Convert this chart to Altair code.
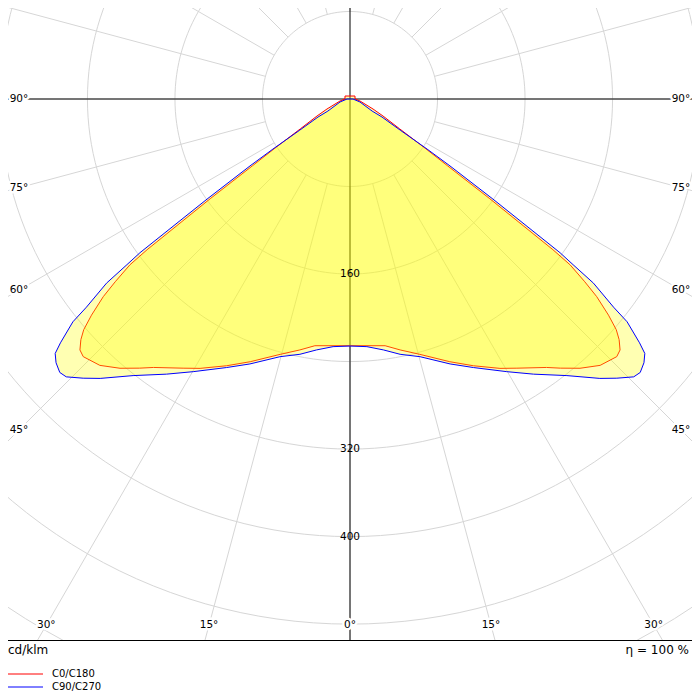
import numpy as np
import pandas as pd
import altair as alt

# ---------------- data (cd/klm) ----------------
# C0/C180 plane (red); the C180 half mirrors C0
gamma_c0 = [0, 8.1, 11.3, 15.3, 20.8, 24.8, 29.1, 31.8, 36.2, 38.0,
            40.5, 43.2, 46.0, 47.1, 48.2, 49.1, 50.1, 51.3, 52.1, 53.0,
            53.4, 54.5, 55.6, 56.7, 59.0, 62.7, 66.5, 78.7, 90, 121, 180]
int_c0 = [225.5, 227.8, 233.9, 242, 256.9, 268.6, 281.8, 289.5, 304.1, 312.2,
          323.7, 334, 339, 337, 330, 322, 308, 289, 272, 252,
          231, 157, 108, 83, 53, 34, 23, 9.3, 4.6, 5.3, 2.7]

# C90/C270 plane (blue); the C270 half mirrors C90
gamma_c90 = [0, 3.9, 7.6, 11.1, 15.2, 20.7, 24.7, 29.9, 33.7, 38.1,
             41.8, 43.7, 45.6, 46.7, 48.1, 49.2, 49.9, 51.2, 51.7, 52.9,
             53.4, 53.8, 55.0, 56.2, 57.0, 58.2, 60.6, 61.4, 73.3, 90, 180]
int_c90 = [225.8, 226.9, 231.4, 237.8, 244.1, 258.9, 270.2, 287.5, 302.3, 321.3,
           342.6, 353, 363, 364.5, 361, 356, 346, 325, 307, 279,
           254, 238, 159.5, 110, 84, 54, 33.5, 23, 9.5, 2.7, 0]

grid_radii = [80, 160, 240, 320, 400, 480, 560, 640]
spoke_angles = list(range(0, 360, 15))
value_labels = [160, 320, 400]
bottom_angle_labels = [0, 15, 30]
side_angle_labels = [45, 60, 75, 90]
series_names = ["C0/C180", "C90/C270"]
series_colors = ["#ff0000", "#0000ff"]
unit_text = "cd/klm"
eta_text = "η = 100 %"

# ---------------- geometry of the diagram ----------------
K = 1.094          # px per cd/klm
CX, CY = 350, 99   # pole position inside the plot frame
W, H = 699, 640    # frame size
xs = alt.Scale(domain=[-CX / K, (W - CX) / K], nice=False, zero=False)
ys = alt.Scale(domain=[-(H - CY) / K, CY / K], nice=False, zero=False)
X = lambda f: alt.X(f, type="quantitative", scale=xs, axis=None)
Y = lambda f: alt.Y(f, type="quantitative", scale=ys, axis=None)


def plane(gam, inten):
    g = np.radians(np.array(gam, dtype=float))
    i = np.array(inten, dtype=float)
    left = pd.DataFrame({"x": -(i * np.sin(g))[::-1], "y": -(i * np.cos(g))[::-1]})
    right = pd.DataFrame({"x": i * np.sin(g), "y": -i * np.cos(g)})
    df = pd.concat([left, right], ignore_index=True)
    df["o"] = np.arange(len(df))
    return df


c0 = plane(gamma_c0, int_c0)
c90 = plane(gamma_c90, int_c90)

t = np.radians(np.arange(0, 361, 2))
circ = pd.concat([pd.DataFrame({"r": r, "o": np.arange(len(t)),
                                "x": r * np.sin(t), "y": r * np.cos(t)})
                  for r in grid_radii], ignore_index=True)

a = np.radians(np.array(spoke_angles, dtype=float))
spokes = pd.DataFrame({"x": 80 * np.sin(a), "y": 80 * np.cos(a),
                       "x2": 800 * np.sin(a), "y2": 800 * np.cos(a)})

vl = pd.DataFrame({"x": 0.0, "y": [-v for v in value_labels],
                   "t": [str(v) for v in value_labels]})

# angle labels sit on the spokes, on a frame inset 19 px (sides) / 15 px (bottom)
inset_x = (CX - 19) / K
inset_y = (625 - CY) / K
rows = []
for g in bottom_angle_labels:
    for s in ([1] if g == 0 else [-1, 1]):
        rows.append({"x": s * inset_y * np.tan(np.radians(g)), "y": -inset_y, "t": f"{g}°"})
for g in side_angle_labels:
    for s in [-1, 1]:
        rows.append({"x": s * inset_x, "y": -inset_x / np.tan(np.radians(g)), "t": f"{g}°"})
al = pd.DataFrame(rows)

one = pd.DataFrame({"v": [0.0]})

grid_c = alt.Chart(circ).mark_line(clip=True, color="#d6d6d6", strokeWidth=1).encode(
    x=X("x"), y=Y("y"), detail="r:N", order="o:Q")
grid_s = alt.Chart(spokes).mark_rule(clip=True, color="#d6d6d6", strokeWidth=1).encode(
    x=X("x"), y=Y("y"), x2="x2", y2="y2")
axis_v = alt.Chart(one).mark_rule(color="black", strokeWidth=1).encode(x=X("v"))
axis_h = alt.Chart(one).mark_rule(color="black", strokeWidth=1).encode(y=Y("v"))

fill0 = alt.Chart(c0).mark_line(fill="#ffff00", fillOpacity=0.3, strokeOpacity=0).encode(
    x=X("x"), y=Y("y"), order="o:Q")
line0 = alt.Chart(c0).mark_line(color=series_colors[0], strokeWidth=1).encode(
    x=X("x"), y=Y("y"), order="o:Q")
fill90 = alt.Chart(c90).mark_line(fill="#ffff00", fillOpacity=0.3, strokeOpacity=0).encode(
    x=X("x"), y=Y("y"), order="o:Q")
line90 = alt.Chart(c90).mark_line(color=series_colors[1], strokeWidth=1).encode(
    x=X("x"), y=Y("y"), order="o:Q")

vlab = alt.Chart(vl).mark_text(fontSize=10.5, color="black", align="center", baseline="middle").encode(
    x=X("x"), y=Y("y"), text="t:N")
alab_halo = alt.Chart(al).mark_text(fontSize=10.5, fill="white", stroke="white", strokeWidth=5,
                                    strokeJoin="round", align="center", baseline="middle").encode(
    x=X("x"), y=Y("y"), text="t:N")
alab = alt.Chart(al).mark_text(fontSize=10.5, color="black", align="center", baseline="middle").encode(
    x=X("x"), y=Y("y"), text="t:N")

unit = alt.Chart(pd.DataFrame({"t": [unit_text]})).mark_text(
    fontSize=12, color="black", align="left", baseline="middle").encode(
    x=alt.value(8), y=alt.value(650), text="t:N")
eta = alt.Chart(pd.DataFrame({"t": [eta_text]})).mark_text(
    fontSize=12, color="black", align="right", baseline="middle").encode(
    x=alt.value(689), y=alt.value(650), text="t:N")

leg = []
for k, (nm, col) in enumerate(zip(series_names, series_colors)):
    yy = 674 + 13 * k
    leg.append(alt.Chart(one).mark_rule(color=col, strokeWidth=1).encode(
        x=alt.value(7), x2=alt.value(43), y=alt.value(yy)))
    leg.append(alt.Chart(pd.DataFrame({"t": [nm]})).mark_text(
        fontSize=10, color="black", align="left", baseline="middle").encode(
        x=alt.value(52), y=alt.value(yy), text="t:N"))

chart = alt.layer(grid_c, grid_s, axis_v, axis_h, fill0, line0, fill90, line90,
                  vlab, alab_halo, alab, unit, eta, *leg).properties(
    width=W, height=H,
    padding={"left": -8, "top": -8, "right": -7, "bottom": 52},
    autosize=alt.AutoSizeParams(type="none"),
).configure_view(stroke="black", strokeWidth=1).configure_text(font="DejaVu Sans")

chart.save("out.html", embed_options={"renderer": "svg", "actions": False})
